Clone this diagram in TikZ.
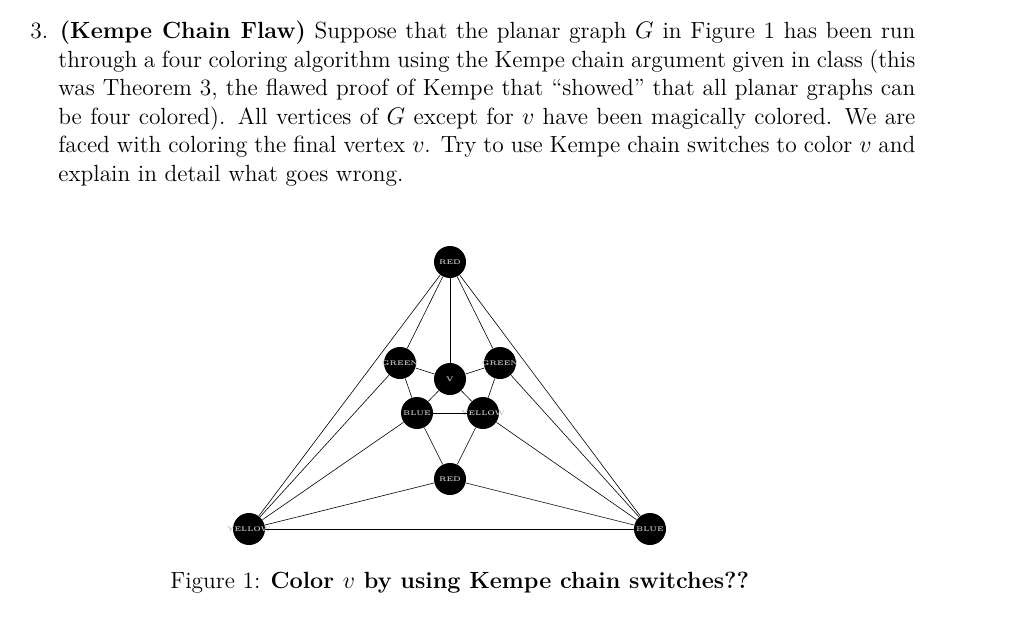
\documentclass[tikz,border=0pt]{standalone}
\usepackage{amsmath,bm}
\begin{document}
\begin{tikzpicture}[x=0.5pt,y=-0.5pt,
  v/.style={circle,fill=black,minimum size=16pt,inner sep=0pt,label={[text=black!25,inner sep=0pt,font=\fontsize{3.4}{4}\selectfont\bfseries]center:#1}},
  e/.style={line width=0.3pt}]
\useasboundingbox (0,0) rectangle (1024,621);
\node[anchor=north west,text width=442.5pt,align=justify,inner sep=0pt,font=\fontsize{11.7}{14.25}\selectfont] (txt) at (30,21) {\hangindent=14pt\hangafter=1\noindent 3.\hspace{0.5em}\textbf{(Kempe Chain Flaw)} Suppose that the planar graph $G$ in Figure 1 has been run\linebreak through a four coloring algorithm using the Kempe chain argument given in class (this\linebreak was Theorem 3, the flawed proof of Kempe that ``showed'' that all planar graphs can\linebreak be four colored). All vertices of $G$ except for $v$ have been magically colored. We are\linebreak faced with coloring the final vertex $v$. Try to use Kempe chain switches to color $v$ and\linebreak explain in detail what goes wrong.\par};
\node[v=RED] (t) at (450,262) {};
\node[v=GREEN] (gl) at (400,363) {};
\node[v=V] (vv) at (450,379) {};
\node[v=GREEN] (gr) at (500,363) {};
\node[v=BLUE] (b) at (417,413) {};
\node[v=YELLOW] (y) at (483,413) {};
\node[v=RED] (rb) at (450,479) {};
\node[v=YELLOW] (yl) at (249,529) {};
\node[v=BLUE] (br) at (650,529) {};
\foreach \a/\b in {t/yl,t/gl,t/vv,t/gr,t/br,yl/gl,yl/b,yl/rb,yl/br,br/gr,br/y,br/rb,gl/vv,gl/b,gr/vv,gr/y,vv/b,vv/y,b/y,b/rb,y/rb}
  \draw[e] (\a) -- (\b);
\node[anchor=base west,inner sep=0pt,font=\fontsize{11.7}{14}\selectfont] (cap) at (170,588) {Figure 1: \textbf{Color $v$ by using Kempe chain switches??}};
\end{tikzpicture}
\end{document}
